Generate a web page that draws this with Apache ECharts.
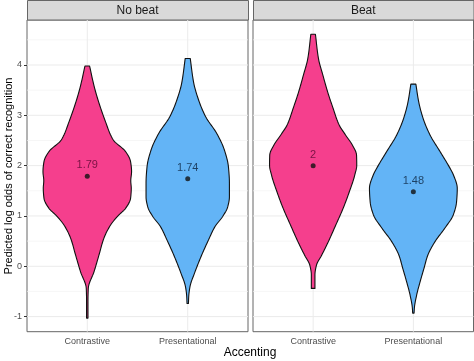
<!DOCTYPE html>
<html><head><meta charset="utf-8">
<script src="https://cdn.jsdelivr.net/npm/echarts@6/dist/echarts.min.js"></script>
<style>html,body{margin:0;padding:0;background:#fff}#c{width:474px;height:361px}</style>
</head><body><div id="c"></div>
<script>
// ---- data ----
const panels = ['No beat', 'Beat'];
const categories = ['Contrastive', 'Presentational'];
const yTicks = [-1, 0, 1, 2, 3, 4];
const noBeatMeans = [1.79, 1.74];
const beatMeans = [2, 1.48];
// violin outlines: y values and half-widths (in x-axis category units)
const noBeatContrastiveY = [3.98, 3.54, 2.87, 2.51, 2.28, 2.08, 1.88, 1.70, 1.55, 1.35, 1.15, 1.02, 0.82, 0.56, 0.22, -0.11, -0.44, -0.70, -1.03];
const noBeatContrastiveW = [0.023, 0.073, 0.182, 0.259, 0.381, 0.431, 0.441, 0.433, 0.438, 0.431, 0.381, 0.315, 0.232, 0.166, 0.116, 0.067, 0.010, 0.007, 0.007];
const noBeatPresentationalY = [4.13, 3.64, 3.30, 2.97, 2.64, 2.31, 1.98, 1.65, 1.38, 1.18, 0.99, 0.79, 0.52, 0.19, -0.14, -0.40, -0.60, -0.74];
const noBeatPresentationalW = [0.025, 0.060, 0.109, 0.179, 0.289, 0.365, 0.405, 0.415, 0.415, 0.398, 0.348, 0.272, 0.206, 0.132, 0.067, 0.023, 0.010, 0.007];
const beatContrastiveY = [4.61, 4.13, 3.80, 3.47, 3.14, 2.81, 2.61, 2.41, 2.21, 2.01, 1.81, 1.48, 1.15, 0.82, 0.49, 0.22, 0.02, -0.17, -0.44];
const beatContrastiveW = [0.023, 0.053, 0.097, 0.144, 0.199, 0.259, 0.323, 0.391, 0.433, 0.435, 0.415, 0.361, 0.299, 0.226, 0.152, 0.085, 0.033, 0.018, 0.018];
const beatPresentationalY = [3.62, 3.27, 2.94, 2.61, 2.28, 2.01, 1.81, 1.55, 1.28, 1.02, 0.76, 0.49, 0.22, -0.04, -0.31, -0.57, -0.83, -0.93];
const beatPresentationalW = [0.025, 0.053, 0.097, 0.166, 0.266, 0.348, 0.401, 0.438, 0.431, 0.398, 0.315, 0.216, 0.144, 0.106, 0.067, 0.033, 0.010, 0.007];

// ---- styles ----
const FONT = 'Liberation Sans, Arial, sans-serif';
const fillColors = ['#F53F8D', '#63B4F6'];
const labelColors = ['#5A0832', '#0B2440'];
const borderCol = '#666666';

const profiles = [
  [[noBeatContrastiveY, noBeatContrastiveW], [noBeatPresentationalY, noBeatPresentationalW]],
  [[beatContrastiveY, beatContrastiveW], [beatPresentationalY, beatPresentationalW]]
];
const meansByPanel = [noBeatMeans, beatMeans];

// monotone cubic (PCHIP) sampling of a width profile, used only for drawing a smooth outline
function smoothProfile(ysIn, wsIn, steps) {
  const xs = ysIn.slice().reverse(), vs = wsIn.slice().reverse();
  const n = xs.length, h = [], d = [], m = new Array(n).fill(0);
  for (let k = 0; k < n - 1; k++) { h[k] = xs[k + 1] - xs[k]; d[k] = (vs[k + 1] - vs[k]) / h[k]; }
  m[0] = d[0]; m[n - 1] = d[n - 2];
  for (let k = 1; k < n - 1; k++) {
    if (d[k - 1] * d[k] <= 0) m[k] = 0;
    else { const w1 = 2 * h[k] + h[k - 1], w2 = h[k] + 2 * h[k - 1]; m[k] = (w1 + w2) / (w1 / d[k - 1] + w2 / d[k]); }
  }
  const out = [];
  for (let k = 0; k < n - 1; k++) {
    for (let s = 0; s < steps; s++) {
      const t = s / steps, t2 = t * t, t3 = t2 * t;
      const v = (2 * t3 - 3 * t2 + 1) * vs[k] + (t3 - 2 * t2 + t) * h[k] * m[k] + (-2 * t3 + 3 * t2) * vs[k + 1] + (t3 - t2) * h[k] * m[k + 1];
      out.push([xs[k] + t * h[k], Math.max(v, 0)]);
    }
  }
  out.push([xs[n - 1], vs[n - 1]]);
  return out.reverse();
}

const grids = [
  { left: 27, top: 20, width: 221, bottom: 29.3, show: true, borderColor: borderCol, borderWidth: 1, backgroundColor: '#fff' },
  { left: 253, top: 20, width: 220.5, bottom: 29.3, show: true, borderColor: borderCol, borderWidth: 1, backgroundColor: '#fff' }
];

const xAxes = grids.map((g, i) => ({
  type: 'value', gridIndex: i, min: 0.4, max: 2.6,
  axisLine: { show: false },
  splitLine: { show: false },
  axisTick: { show: true, customValues: [1, 2], length: 3, lineStyle: { color: '#333' } },
  axisLabel: { show: true, customValues: [1, 2], margin: 5, color: '#4D4D4D', fontSize: 9, fontFamily: FONT,
    formatter: v => categories[Math.round(v) - 1] || '' }
}));
const yAxes = grids.map((g, i) => ({
  type: 'value', gridIndex: i, min: -1.30, max: 4.894,
  axisLine: { show: false },
  splitLine: { show: false },
  axisTick: { show: i === 0, customValues: yTicks, length: 3, lineStyle: { color: '#333' } },
  axisLabel: { show: i === 0, customValues: yTicks, margin: 5, color: '#4D4D4D', fontSize: 9, fontFamily: FONT }
}));

function gridSeries(i) {
  return {
    type: 'custom', xAxisIndex: i, yAxisIndex: i, silent: true, z: 1,
    data: [[1, 0]],
    renderItem: function (params, api) {
      const cs = params.coordSys;
      const children = [];
      const minor = [-0.5, 0.5, 1.5, 2.5, 3.5, 4.5];
      minor.forEach(v => {
        const y = api.coord([1, v])[1];
        children.push({ type: 'line', shape: { x1: cs.x, y1: y, x2: cs.x + cs.width, y2: y }, style: { stroke: '#F2F2F2', lineWidth: 0.7 } });
      });
      yTicks.forEach(v => {
        const y = api.coord([1, v])[1];
        children.push({ type: 'line', shape: { x1: cs.x, y1: y, x2: cs.x + cs.width, y2: y }, style: { stroke: '#EBEBEB', lineWidth: 1 } });
      });
      [1, 2].forEach(c => {
        const x = api.coord([c, 0])[0];
        children.push({ type: 'line', shape: { x1: x, y1: cs.y, x2: x, y2: cs.y + cs.height }, style: { stroke: '#EBEBEB', lineWidth: 1 } });
      });
      return { type: 'group', children };
    }
  };
}

function violinSeries(i) {
  return {
    type: 'custom', xAxisIndex: i, yAxisIndex: i, silent: true, z: 2,
    data: categories.map((c, k) => [k + 1, meansByPanel[i][k]]),
    renderItem: function (params, api) {
      const k = params.dataIndex;
      const cx = api.value(0);
      const prof = smoothProfile(profiles[i][k][0], profiles[i][k][1], 10);
      const right = prof.map(p => api.coord([cx + p[1], p[0]]));
      const left = prof.map(p => api.coord([cx - p[1], p[0]])).reverse();
      return {
        type: 'polygon',
        shape: { points: right.concat(left) },
        style: { fill: fillColors[k], stroke: '#111', lineWidth: 1.1, lineJoin: 'round' }
      };
    }
  };
}

function meanSeries(i) {
  return {
    type: 'scatter', xAxisIndex: i, yAxisIndex: i, silent: true, z: 3,
    symbolSize: 5,
    itemStyle: { color: '#111' },
    data: categories.map((c, k) => ({
      value: [k + 1, meansByPanel[i][k]],
      label: { show: true, position: 'top', distance: 3, formatter: String(meansByPanel[i][k]),
        color: labelColors[k], fontSize: 11, fontFamily: FONT }
    }))
  };
}

const series = [];
[0, 1].forEach(i => { series.push(gridSeries(i), violinSeries(i), meanSeries(i)); });

const graphics = [];
grids.forEach((g, i) => {
  graphics.push({ type: 'rect', left: g.left, top: 0, shape: { x: 0, y: 0.5, width: g.width, height: 19.5 },
    style: { fill: '#D9D9D9', stroke: borderCol, lineWidth: 1 } });
  graphics.push({ type: 'text', x: g.left + g.width / 2, y: 10.5,
    style: { text: panels[i], textAlign: 'center', textVerticalAlign: 'middle', fill: '#1A1A1A', fontSize: 12, fontFamily: FONT } });
});
graphics.push({ type: 'text', x: 250, y: 353, style: { text: 'Accenting', textAlign: 'center', textVerticalAlign: 'middle', fill: '#000', fontSize: 12, fontFamily: FONT } });
graphics.push({ type: 'text', x: 9, y: 176, rotation: Math.PI / 2,
  style: { text: 'Predicted log odds of correct recognition', textAlign: 'center', textVerticalAlign: 'middle', fill: '#000', fontSize: 11, fontFamily: FONT } });

const chart = echarts.init(document.getElementById('c'), null, { renderer: 'canvas' });
chart.setOption({
  animation: false,
  backgroundColor: '#fff',
  grid: grids,
  xAxis: xAxes,
  yAxis: yAxes,
  series,
  graphic: graphics
});
</script>
</body></html>
